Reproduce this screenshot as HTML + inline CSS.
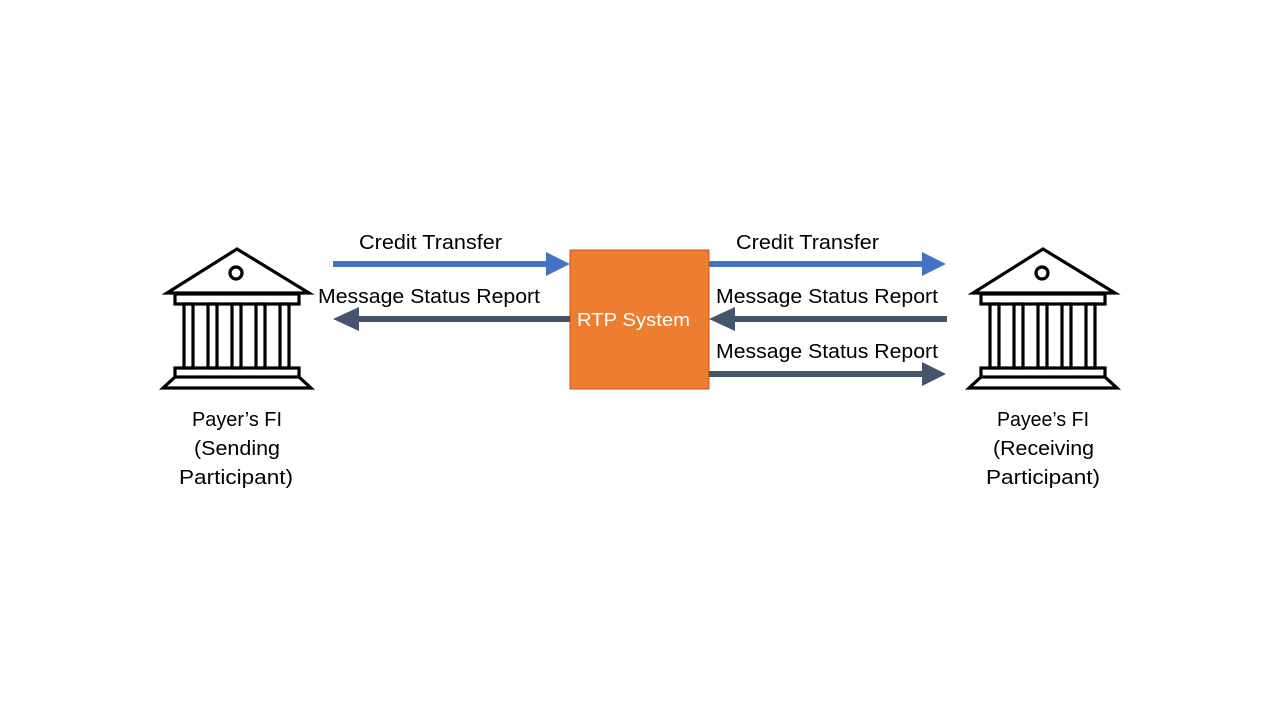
<!DOCTYPE html>
<html><head><meta charset="utf-8"><style>
html,body{margin:0;padding:0;background:#fff;width:1280px;height:720px;overflow:hidden}
text{font-family:"Liberation Sans",sans-serif}
</style></head><body>
<svg width="1280" height="720" viewBox="0 0 1280 720" xmlns="http://www.w3.org/2000/svg">
<defs>
<g id="bank" fill="none" stroke="#000" stroke-width="3.2">
  <path d="M0,0 L-70,44 L72,44 Z" stroke-linejoin="miter"/>
  <circle cx="-1" cy="24" r="6"/>
  <rect x="-62" y="45" width="124" height="10"/>
  <rect x="-53" y="55" width="9" height="64"/>
  <rect x="-29" y="55" width="9" height="64"/>
  <rect x="-5" y="55" width="9" height="64"/>
  <rect x="19" y="55" width="9" height="64"/>
  <rect x="43" y="55" width="9" height="64"/>
  <rect x="-62" y="119" width="124" height="9"/>
  <path d="M-62,128 L-74,139 L74,139 L62,128"/>
</g>
</defs>
<use href="#bank" x="237" y="249"/>
<use href="#bank" x="1043" y="249"/>

<rect x="570" y="250" width="139" height="139" fill="#ED7D31" stroke="#C55A11" stroke-width="1"/>
<text x="577" y="326" font-size="18" fill="#fff" textLength="113" lengthAdjust="spacingAndGlyphs">RTP System</text>

<g fill="#4472C4">
<rect x="333" y="261" width="215" height="6"/><path d="M546,252 L570,264 L546,276 Z"/>
<rect x="709" y="261" width="215" height="6"/><path d="M922,252 L946,264 L922,276 Z"/>
</g>
<g fill="#44546A">
<rect x="357" y="316" width="213" height="6"/><path d="M359,307 L333,319 L359,331 Z"/>
<rect x="733" y="316" width="214" height="6"/><path d="M735,307 L709,319 L735,331 Z"/>
<rect x="709" y="371" width="215" height="6"/><path d="M922,362 L946,374 L922,386 Z"/>
</g>

<g font-size="20" fill="#000" lengthAdjust="spacingAndGlyphs">
<text x="359" y="249" textLength="143" lengthAdjust="spacingAndGlyphs">Credit Transfer</text>
<text x="736" y="249" textLength="143" lengthAdjust="spacingAndGlyphs">Credit Transfer</text>
<text x="318" y="303" textLength="222" lengthAdjust="spacingAndGlyphs">Message Status Report</text>
<text x="716" y="303" textLength="222" lengthAdjust="spacingAndGlyphs">Message Status Report</text>
<text x="716" y="358" textLength="222" lengthAdjust="spacingAndGlyphs">Message Status Report</text>
<text x="192" y="426" textLength="90" lengthAdjust="spacingAndGlyphs">Payer’s FI</text>
<text x="194" y="455" textLength="86" lengthAdjust="spacingAndGlyphs">(Sending</text>
<text x="179" y="484" textLength="114" lengthAdjust="spacingAndGlyphs">Participant)</text>
<text x="997" y="426" textLength="92" lengthAdjust="spacingAndGlyphs">Payee’s FI</text>
<text x="993" y="455" textLength="101" lengthAdjust="spacingAndGlyphs">(Receiving</text>
<text x="986" y="484" textLength="114" lengthAdjust="spacingAndGlyphs">Participant)</text>
</g>
</svg>
</body></html>
